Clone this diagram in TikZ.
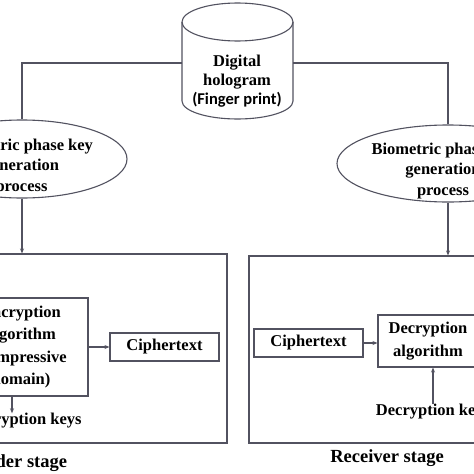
\documentclass[tikz,border=0pt]{standalone}
\usepackage{fontspec}
\setmainfont{Liberation Serif}
\newfontfamily\carl{Carlito}
\usetikzlibrary{shapes.geometric,arrows.meta,calc}
\definecolor{lc}{RGB}{82,82,96}
\tikzset{
  ln/.style={draw=lc,line width=1.1pt},
  arr/.style={ln,-{Stealth[length=5pt,width=4pt]}},
  boxnode/.style={ln,rectangle,inner sep=0pt,font=\fontsize{16.5}{22.5}\selectfont\bfseries,align=center},
  txt/.style={inner sep=0pt,font=\fontsize{16.5}{20.5}\selectfont\bfseries,align=center},
  stagetxt/.style={inner sep=0pt,font=\fontsize{18.5}{22}\selectfont\bfseries},
  ell/.style={ln,ellipse,inner sep=0pt}
}
\begin{document}
\begin{tikzpicture}[x=1pt,y=-1pt]
\useasboundingbox (0,0) rectangle (474,474);
\fill[white] (0,0) rectangle (474,474);
\clip (0,0) rectangle (474,474);
% cylinder
\draw[ln] (237.5,22) ellipse [x radius=55.5pt,y radius=19pt];
\draw[ln] (182,22) -- (182,101) arc[start angle=180,end angle=360,x radius=55.5pt,y radius=18pt] -- (293,22);
\node[txt,font=\fontsize{16.5}{19}\selectfont\bfseries] (holo) at (237,81) {Digital\\hologram\\{\carl (Finger print)}};
\coordinate (cylL) at (182,63);
\coordinate (cylR) at (293,63);
% ellipses
\node[ell,minimum width=210pt,minimum height=78pt] (lell) at (22,159) {};
\node[txt] (ltext) at (21.5,167) {Biometric phase key\\generation\\process};
\node[ell,minimum width=222pt,minimum height=77pt] (rell) at (448,163.5) {};
\node[txt] (rtext) at (443,171) {Biometric phase key\\generation\\process};
\draw[ln] (cylL) -| (lell.north);
\draw[ln] (cylR) -| (rell.north);
% stage boxes
\node[ln,rectangle,minimum width=327pt,minimum height=189pt] (sbox) at (63.5,348.5) {};
\node[ln,rectangle,minimum width=311pt,minimum height=187pt] (rbox) at (404.5,349.5) {};
\draw[arr] (lell.south) -- (lell.south |- sbox.north);
\draw[arr] (rell.south) -- (rell.south |- rbox.north);
% sender
\node[boxnode,minimum width=134pt,minimum height=98pt] (enc) at (21,347) {Encryption\\algorithm\\(compressive\\domain)};
\node[boxnode,minimum width=109pt,minimum height=28pt] (c1) at (164.5,347) {Ciphertext};
\draw[arr] (enc.east) -- (c1.west);
\node[txt] (ekeys) at (24,421) {Encryption keys};
\draw[arr] ([xshift=-9pt]enc.south) -- ([xshift=-9pt]enc.south |- ekeys.north);
\node[stagetxt] (slab) at (17,463) {Sender stage};
% receiver
\node[boxnode,minimum width=109pt,minimum height=28pt] (c2) at (308.5,343) {Ciphertext};
\node[boxnode,minimum width=100pt,minimum height=52pt] (dec) at (428,341) {Decryption\\algorithm};
\draw[arr] (c2.east) -- (c2.east -| dec.west);
\node[txt] (dkeys) at (433,412) {Decryption keys};
\draw[arr] (dkeys.north) -- (dkeys.north |- dec.south);
\node[stagetxt] (rlab) at (387,458) {Receiver stage};
\end{tikzpicture}
\end{document}
